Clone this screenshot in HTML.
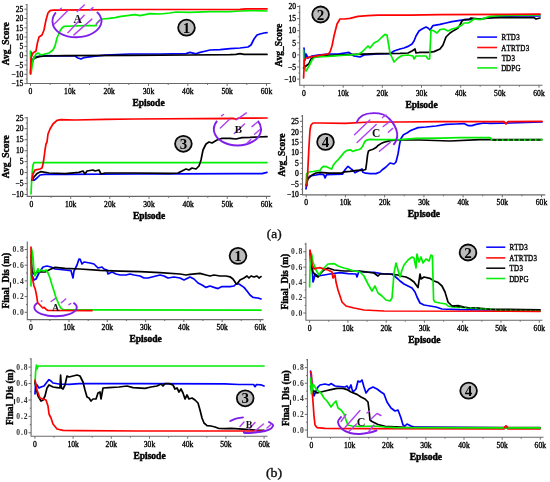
<!DOCTYPE html>
<html><head><meta charset="utf-8"><style>
html,body{margin:0;padding:0;background:#fff;}
body{width:550px;height:482px;overflow:hidden;font-family:"Liberation Serif",serif;}
svg{display:block;will-change:transform;}
</style></head><body>
<svg width="550" height="482" viewBox="0 0 550 482">
<rect width="550" height="482" fill="#fff"/>
<path d="M27.0 4.0 V83.5 H270.5" fill="none" stroke="#6a6a6a" stroke-width="1.1"/>
<path d="M24.4 83.6H27.0M24.4 74.3H27.0M24.4 65.0H27.0M24.4 55.7H27.0M24.4 46.4H27.0M24.4 37.1H27.0M24.4 27.8H27.0M24.4 18.5H27.0M24.4 9.2H27.0M25.7 79.0H27.0M25.7 69.7H27.0M25.7 60.4H27.0M25.7 51.1H27.0M25.7 41.8H27.0M25.7 32.5H27.0M25.7 23.1H27.0M25.7 13.8H27.0M25.7 4.6H27.0M30.5 83.5V85.9M69.8 83.5V85.9M109.2 83.5V85.9M148.5 83.5V85.9M187.8 83.5V85.9M227.2 83.5V85.9M266.5 83.5V85.9M50.2 83.5V84.9M89.5 83.5V84.9M128.8 83.5V84.9M168.2 83.5V84.9M207.5 83.5V84.9M246.8 83.5V84.9" stroke="#6a6a6a" stroke-width="1" fill="none"/>
<text x="23.4" y="86.3" text-anchor="end" font-family="Liberation Serif" font-size="7.6" fill="#000" stroke="#000" stroke-width="0.32">−15</text>
<text x="23.4" y="77.0" text-anchor="end" font-family="Liberation Serif" font-size="7.6" fill="#000" stroke="#000" stroke-width="0.32">−10</text>
<text x="23.4" y="67.7" text-anchor="end" font-family="Liberation Serif" font-size="7.6" fill="#000" stroke="#000" stroke-width="0.32">−5</text>
<text x="23.4" y="58.4" text-anchor="end" font-family="Liberation Serif" font-size="7.6" fill="#000" stroke="#000" stroke-width="0.32">0</text>
<text x="23.4" y="49.1" text-anchor="end" font-family="Liberation Serif" font-size="7.6" fill="#000" stroke="#000" stroke-width="0.32">5</text>
<text x="23.4" y="39.8" text-anchor="end" font-family="Liberation Serif" font-size="7.6" fill="#000" stroke="#000" stroke-width="0.32">10</text>
<text x="23.4" y="30.5" text-anchor="end" font-family="Liberation Serif" font-size="7.6" fill="#000" stroke="#000" stroke-width="0.32">15</text>
<text x="23.4" y="21.2" text-anchor="end" font-family="Liberation Serif" font-size="7.6" fill="#000" stroke="#000" stroke-width="0.32">20</text>
<text x="23.4" y="11.9" text-anchor="end" font-family="Liberation Serif" font-size="7.6" fill="#000" stroke="#000" stroke-width="0.32">25</text>
<text x="30.5" y="93.8" text-anchor="middle" font-family="Liberation Serif" font-size="7.6" fill="#000" stroke="#000" stroke-width="0.32">0</text>
<text x="69.8" y="93.8" text-anchor="middle" font-family="Liberation Serif" font-size="7.6" fill="#000" stroke="#000" stroke-width="0.32">10k</text>
<text x="109.2" y="93.8" text-anchor="middle" font-family="Liberation Serif" font-size="7.6" fill="#000" stroke="#000" stroke-width="0.32">20k</text>
<text x="148.5" y="93.8" text-anchor="middle" font-family="Liberation Serif" font-size="7.6" fill="#000" stroke="#000" stroke-width="0.32">30k</text>
<text x="187.8" y="93.8" text-anchor="middle" font-family="Liberation Serif" font-size="7.6" fill="#000" stroke="#000" stroke-width="0.32">40k</text>
<text x="227.2" y="93.8" text-anchor="middle" font-family="Liberation Serif" font-size="7.6" fill="#000" stroke="#000" stroke-width="0.32">50k</text>
<text x="266.5" y="93.8" text-anchor="middle" font-family="Liberation Serif" font-size="7.6" fill="#000" stroke="#000" stroke-width="0.32">60k</text>
<text x="148.5" y="105.7" text-anchor="middle" font-family="Liberation Serif" font-weight="bold" font-size="9.5" fill="#000" stroke="#000" stroke-width="0.45">Episode</text>
<text transform="translate(9.0,43.8) rotate(-90)" x="0" y="0" text-anchor="middle" font-family="Liberation Serif" font-weight="bold" font-size="9.5" fill="#000" stroke="#000" stroke-width="0.4">Avg_Score</text>
<path d="M299.7 5.3 V85.3 H542.5" fill="none" stroke="#6a6a6a" stroke-width="1.1"/>
<path d="M297.1 79.1H299.7M297.1 67.0H299.7M297.1 54.9H299.7M297.1 42.8H299.7M297.1 30.7H299.7M297.1 18.6H299.7M297.1 6.5H299.7M298.4 73.0H299.7M298.4 61.0H299.7M298.4 48.9H299.7M298.4 36.8H299.7M298.4 24.6H299.7M298.4 12.6H299.7M304.0 85.3V87.7M343.2 85.3V87.7M382.3 85.3V87.7M421.5 85.3V87.7M460.7 85.3V87.7M499.8 85.3V87.7M539.0 85.3V87.7M323.6 85.3V86.7M362.8 85.3V86.7M401.9 85.3V86.7M441.1 85.3V86.7M480.2 85.3V86.7M519.4 85.3V86.7" stroke="#6a6a6a" stroke-width="1" fill="none"/>
<text x="296.1" y="81.8" text-anchor="end" font-family="Liberation Serif" font-size="7.6" fill="#000" stroke="#000" stroke-width="0.32">−10</text>
<text x="296.1" y="69.7" text-anchor="end" font-family="Liberation Serif" font-size="7.6" fill="#000" stroke="#000" stroke-width="0.32">−5</text>
<text x="296.1" y="57.6" text-anchor="end" font-family="Liberation Serif" font-size="7.6" fill="#000" stroke="#000" stroke-width="0.32">0</text>
<text x="296.1" y="45.5" text-anchor="end" font-family="Liberation Serif" font-size="7.6" fill="#000" stroke="#000" stroke-width="0.32">5</text>
<text x="296.1" y="33.4" text-anchor="end" font-family="Liberation Serif" font-size="7.6" fill="#000" stroke="#000" stroke-width="0.32">10</text>
<text x="296.1" y="21.3" text-anchor="end" font-family="Liberation Serif" font-size="7.6" fill="#000" stroke="#000" stroke-width="0.32">15</text>
<text x="296.1" y="9.2" text-anchor="end" font-family="Liberation Serif" font-size="7.6" fill="#000" stroke="#000" stroke-width="0.32">20</text>
<text x="304.0" y="95.6" text-anchor="middle" font-family="Liberation Serif" font-size="7.6" fill="#000" stroke="#000" stroke-width="0.32">0</text>
<text x="343.2" y="95.6" text-anchor="middle" font-family="Liberation Serif" font-size="7.6" fill="#000" stroke="#000" stroke-width="0.32">10k</text>
<text x="382.3" y="95.6" text-anchor="middle" font-family="Liberation Serif" font-size="7.6" fill="#000" stroke="#000" stroke-width="0.32">20k</text>
<text x="421.5" y="95.6" text-anchor="middle" font-family="Liberation Serif" font-size="7.6" fill="#000" stroke="#000" stroke-width="0.32">30k</text>
<text x="460.7" y="95.6" text-anchor="middle" font-family="Liberation Serif" font-size="7.6" fill="#000" stroke="#000" stroke-width="0.32">40k</text>
<text x="499.8" y="95.6" text-anchor="middle" font-family="Liberation Serif" font-size="7.6" fill="#000" stroke="#000" stroke-width="0.32">50k</text>
<text x="539.0" y="95.6" text-anchor="middle" font-family="Liberation Serif" font-size="7.6" fill="#000" stroke="#000" stroke-width="0.32">60k</text>
<text x="421.5" y="107.5" text-anchor="middle" font-family="Liberation Serif" font-weight="bold" font-size="9.5" fill="#000" stroke="#000" stroke-width="0.45">Episode</text>
<text transform="translate(281.7,45.3) rotate(-90)" x="0" y="0" text-anchor="middle" font-family="Liberation Serif" font-weight="bold" font-size="9.5" fill="#000" stroke="#000" stroke-width="0.4">Avg_Score</text>
<path d="M27.2 117.0 V196.4 H270.5" fill="none" stroke="#6a6a6a" stroke-width="1.1"/>
<path d="M24.6 194.5H27.2M24.6 183.6H27.2M24.6 172.6H27.2M24.6 161.6H27.2M24.6 150.7H27.2M24.6 139.7H27.2M24.6 128.7H27.2M24.6 117.8H27.2M25.9 189.1H27.2M25.9 178.1H27.2M25.9 167.1H27.2M25.9 156.1H27.2M25.9 145.2H27.2M25.9 134.2H27.2M25.9 123.2H27.2M31.5 196.4V198.8M70.7 196.4V198.8M109.8 196.4V198.8M149.0 196.4V198.8M188.2 196.4V198.8M227.3 196.4V198.8M266.5 196.4V198.8M51.1 196.4V197.8M90.2 196.4V197.8M129.4 196.4V197.8M168.6 196.4V197.8M207.8 196.4V197.8M246.9 196.4V197.8" stroke="#6a6a6a" stroke-width="1" fill="none"/>
<text x="23.6" y="197.2" text-anchor="end" font-family="Liberation Serif" font-size="7.6" fill="#000" stroke="#000" stroke-width="0.32">−10</text>
<text x="23.6" y="186.3" text-anchor="end" font-family="Liberation Serif" font-size="7.6" fill="#000" stroke="#000" stroke-width="0.32">−5</text>
<text x="23.6" y="175.3" text-anchor="end" font-family="Liberation Serif" font-size="7.6" fill="#000" stroke="#000" stroke-width="0.32">0</text>
<text x="23.6" y="164.3" text-anchor="end" font-family="Liberation Serif" font-size="7.6" fill="#000" stroke="#000" stroke-width="0.32">5</text>
<text x="23.6" y="153.4" text-anchor="end" font-family="Liberation Serif" font-size="7.6" fill="#000" stroke="#000" stroke-width="0.32">10</text>
<text x="23.6" y="142.4" text-anchor="end" font-family="Liberation Serif" font-size="7.6" fill="#000" stroke="#000" stroke-width="0.32">15</text>
<text x="23.6" y="131.4" text-anchor="end" font-family="Liberation Serif" font-size="7.6" fill="#000" stroke="#000" stroke-width="0.32">20</text>
<text x="23.6" y="120.5" text-anchor="end" font-family="Liberation Serif" font-size="7.6" fill="#000" stroke="#000" stroke-width="0.32">25</text>
<text x="31.5" y="206.7" text-anchor="middle" font-family="Liberation Serif" font-size="7.6" fill="#000" stroke="#000" stroke-width="0.32">0</text>
<text x="70.7" y="206.7" text-anchor="middle" font-family="Liberation Serif" font-size="7.6" fill="#000" stroke="#000" stroke-width="0.32">10k</text>
<text x="109.8" y="206.7" text-anchor="middle" font-family="Liberation Serif" font-size="7.6" fill="#000" stroke="#000" stroke-width="0.32">20k</text>
<text x="149.0" y="206.7" text-anchor="middle" font-family="Liberation Serif" font-size="7.6" fill="#000" stroke="#000" stroke-width="0.32">30k</text>
<text x="188.2" y="206.7" text-anchor="middle" font-family="Liberation Serif" font-size="7.6" fill="#000" stroke="#000" stroke-width="0.32">40k</text>
<text x="227.3" y="206.7" text-anchor="middle" font-family="Liberation Serif" font-size="7.6" fill="#000" stroke="#000" stroke-width="0.32">50k</text>
<text x="266.5" y="206.7" text-anchor="middle" font-family="Liberation Serif" font-size="7.6" fill="#000" stroke="#000" stroke-width="0.32">60k</text>
<text x="149.0" y="218.6" text-anchor="middle" font-family="Liberation Serif" font-weight="bold" font-size="9.5" fill="#000" stroke="#000" stroke-width="0.45">Episode</text>
<text transform="translate(9.2,156.7) rotate(-90)" x="0" y="0" text-anchor="middle" font-family="Liberation Serif" font-weight="bold" font-size="9.5" fill="#000" stroke="#000" stroke-width="0.4">Avg_Score</text>
<path d="M302.5 115.1 V194.9 H545.3" fill="none" stroke="#6a6a6a" stroke-width="1.1"/>
<path d="M299.9 194.5H302.5M299.9 184.0H302.5M299.9 173.6H302.5M299.9 163.2H302.5M299.9 152.7H302.5M299.9 142.2H302.5M299.9 131.8H302.5M299.9 121.3H302.5M301.2 189.3H302.5M301.2 178.8H302.5M301.2 168.4H302.5M301.2 157.9H302.5M301.2 147.5H302.5M301.2 137.0H302.5M301.2 126.6H302.5M301.2 116.1H302.5M306.2 194.9V197.3M345.4 194.9V197.3M384.6 194.9V197.3M423.9 194.9V197.3M463.1 194.9V197.3M502.3 194.9V197.3M541.5 194.9V197.3M325.8 194.9V196.3M365.0 194.9V196.3M404.2 194.9V196.3M443.5 194.9V196.3M482.7 194.9V196.3M521.9 194.9V196.3" stroke="#6a6a6a" stroke-width="1" fill="none"/>
<text x="298.9" y="197.2" text-anchor="end" font-family="Liberation Serif" font-size="7.6" fill="#000" stroke="#000" stroke-width="0.32">−10</text>
<text x="298.9" y="186.7" text-anchor="end" font-family="Liberation Serif" font-size="7.6" fill="#000" stroke="#000" stroke-width="0.32">−5</text>
<text x="298.9" y="176.3" text-anchor="end" font-family="Liberation Serif" font-size="7.6" fill="#000" stroke="#000" stroke-width="0.32">0</text>
<text x="298.9" y="165.8" text-anchor="end" font-family="Liberation Serif" font-size="7.6" fill="#000" stroke="#000" stroke-width="0.32">5</text>
<text x="298.9" y="155.4" text-anchor="end" font-family="Liberation Serif" font-size="7.6" fill="#000" stroke="#000" stroke-width="0.32">10</text>
<text x="298.9" y="144.9" text-anchor="end" font-family="Liberation Serif" font-size="7.6" fill="#000" stroke="#000" stroke-width="0.32">15</text>
<text x="298.9" y="134.5" text-anchor="end" font-family="Liberation Serif" font-size="7.6" fill="#000" stroke="#000" stroke-width="0.32">20</text>
<text x="298.9" y="124.0" text-anchor="end" font-family="Liberation Serif" font-size="7.6" fill="#000" stroke="#000" stroke-width="0.32">25</text>
<text x="306.2" y="205.2" text-anchor="middle" font-family="Liberation Serif" font-size="7.6" fill="#000" stroke="#000" stroke-width="0.32">0</text>
<text x="345.4" y="205.2" text-anchor="middle" font-family="Liberation Serif" font-size="7.6" fill="#000" stroke="#000" stroke-width="0.32">10k</text>
<text x="384.6" y="205.2" text-anchor="middle" font-family="Liberation Serif" font-size="7.6" fill="#000" stroke="#000" stroke-width="0.32">20k</text>
<text x="423.9" y="205.2" text-anchor="middle" font-family="Liberation Serif" font-size="7.6" fill="#000" stroke="#000" stroke-width="0.32">30k</text>
<text x="463.1" y="205.2" text-anchor="middle" font-family="Liberation Serif" font-size="7.6" fill="#000" stroke="#000" stroke-width="0.32">40k</text>
<text x="502.3" y="205.2" text-anchor="middle" font-family="Liberation Serif" font-size="7.6" fill="#000" stroke="#000" stroke-width="0.32">50k</text>
<text x="541.5" y="205.2" text-anchor="middle" font-family="Liberation Serif" font-size="7.6" fill="#000" stroke="#000" stroke-width="0.32">60k</text>
<text x="423.9" y="217.1" text-anchor="middle" font-family="Liberation Serif" font-weight="bold" font-size="9.5" fill="#000" stroke="#000" stroke-width="0.45">Episode</text>
<text transform="translate(284.5,155.0) rotate(-90)" x="0" y="0" text-anchor="middle" font-family="Liberation Serif" font-weight="bold" font-size="9.5" fill="#000" stroke="#000" stroke-width="0.4">Avg_Score</text>
<path d="M27.3 241.6 V319.6 H263.5" fill="none" stroke="#6a6a6a" stroke-width="1.1"/>
<path d="M24.7 312.3H27.3M24.7 296.6H27.3M24.7 280.9H27.3M24.7 265.2H27.3M24.7 249.5H27.3M26.0 304.4H27.3M26.0 288.8H27.3M26.0 273.1H27.3M26.0 257.3H27.3M30.8 319.6V322.0M69.0 319.6V322.0M107.3 319.6V322.0M145.6 319.6V322.0M183.8 319.6V322.0M222.1 319.6V322.0M260.3 319.6V322.0M49.9 319.6V321.0M88.2 319.6V321.0M126.4 319.6V321.0M164.7 319.6V321.0M202.9 319.6V321.0M241.2 319.6V321.0" stroke="#6a6a6a" stroke-width="1" fill="none"/>
<text x="23.7" y="314.9" text-anchor="end" font-family="Liberation Serif" font-weight="bold" font-size="7.6" fill="#333" textLength="11.3" lengthAdjust="spacing">0.0</text>
<text x="23.7" y="299.2" text-anchor="end" font-family="Liberation Serif" font-weight="bold" font-size="7.6" fill="#333" textLength="11.3" lengthAdjust="spacing">0.2</text>
<text x="23.7" y="283.5" text-anchor="end" font-family="Liberation Serif" font-weight="bold" font-size="7.6" fill="#333" textLength="11.3" lengthAdjust="spacing">0.4</text>
<text x="23.7" y="267.8" text-anchor="end" font-family="Liberation Serif" font-weight="bold" font-size="7.6" fill="#333" textLength="11.3" lengthAdjust="spacing">0.6</text>
<text x="23.7" y="252.1" text-anchor="end" font-family="Liberation Serif" font-weight="bold" font-size="7.6" fill="#333" textLength="11.3" lengthAdjust="spacing">0.8</text>
<text x="30.8" y="329.9" text-anchor="middle" font-family="Liberation Serif" font-size="7.6" fill="#000" stroke="#000" stroke-width="0.32">0</text>
<text x="69.0" y="329.9" text-anchor="middle" font-family="Liberation Serif" font-size="7.6" fill="#000" stroke="#000" stroke-width="0.32">10k</text>
<text x="107.3" y="329.9" text-anchor="middle" font-family="Liberation Serif" font-size="7.6" fill="#000" stroke="#000" stroke-width="0.32">20k</text>
<text x="145.6" y="329.9" text-anchor="middle" font-family="Liberation Serif" font-size="7.6" fill="#000" stroke="#000" stroke-width="0.32">30k</text>
<text x="183.8" y="329.9" text-anchor="middle" font-family="Liberation Serif" font-size="7.6" fill="#000" stroke="#000" stroke-width="0.32">40k</text>
<text x="222.1" y="329.9" text-anchor="middle" font-family="Liberation Serif" font-size="7.6" fill="#000" stroke="#000" stroke-width="0.32">50k</text>
<text x="260.3" y="329.9" text-anchor="middle" font-family="Liberation Serif" font-size="7.6" fill="#000" stroke="#000" stroke-width="0.32">60k</text>
<text x="145.6" y="341.8" text-anchor="middle" font-family="Liberation Serif" font-weight="bold" font-size="9.5" fill="#000" stroke="#000" stroke-width="0.45">Episode</text>
<text transform="translate(9.3,280.6) rotate(-90)" x="0" y="0" text-anchor="middle" font-family="Liberation Serif" font-weight="bold" font-size="9.5" fill="#000" stroke="#000" stroke-width="0.4">Final_Dis (m)</text>
<path d="M305.9 242.8 V320.3 H542.5" fill="none" stroke="#6a6a6a" stroke-width="1.1"/>
<path d="M303.3 313.0H305.9M303.3 297.7H305.9M303.3 282.4H305.9M303.3 267.1H305.9M303.3 251.8H305.9M304.6 305.4H305.9M304.6 290.1H305.9M304.6 274.8H305.9M304.6 259.5H305.9M304.6 244.2H305.9M309.6 320.3V322.7M347.9 320.3V322.7M386.2 320.3V322.7M424.4 320.3V322.7M462.7 320.3V322.7M501.0 320.3V322.7M539.3 320.3V322.7M328.7 320.3V321.7M367.0 320.3V321.7M405.3 320.3V321.7M443.6 320.3V321.7M481.9 320.3V321.7M520.2 320.3V321.7" stroke="#6a6a6a" stroke-width="1" fill="none"/>
<text x="302.3" y="315.6" text-anchor="end" font-family="Liberation Serif" font-weight="bold" font-size="7.6" fill="#333" textLength="11.3" lengthAdjust="spacing">0.0</text>
<text x="302.3" y="300.3" text-anchor="end" font-family="Liberation Serif" font-weight="bold" font-size="7.6" fill="#333" textLength="11.3" lengthAdjust="spacing">0.2</text>
<text x="302.3" y="285.0" text-anchor="end" font-family="Liberation Serif" font-weight="bold" font-size="7.6" fill="#333" textLength="11.3" lengthAdjust="spacing">0.4</text>
<text x="302.3" y="269.7" text-anchor="end" font-family="Liberation Serif" font-weight="bold" font-size="7.6" fill="#333" textLength="11.3" lengthAdjust="spacing">0.6</text>
<text x="302.3" y="254.4" text-anchor="end" font-family="Liberation Serif" font-weight="bold" font-size="7.6" fill="#333" textLength="11.3" lengthAdjust="spacing">0.8</text>
<text x="309.6" y="330.6" text-anchor="middle" font-family="Liberation Serif" font-size="7.6" fill="#000" stroke="#000" stroke-width="0.32">0</text>
<text x="347.9" y="330.6" text-anchor="middle" font-family="Liberation Serif" font-size="7.6" fill="#000" stroke="#000" stroke-width="0.32">10k</text>
<text x="386.2" y="330.6" text-anchor="middle" font-family="Liberation Serif" font-size="7.6" fill="#000" stroke="#000" stroke-width="0.32">20k</text>
<text x="424.4" y="330.6" text-anchor="middle" font-family="Liberation Serif" font-size="7.6" fill="#000" stroke="#000" stroke-width="0.32">30k</text>
<text x="462.7" y="330.6" text-anchor="middle" font-family="Liberation Serif" font-size="7.6" fill="#000" stroke="#000" stroke-width="0.32">40k</text>
<text x="501.0" y="330.6" text-anchor="middle" font-family="Liberation Serif" font-size="7.6" fill="#000" stroke="#000" stroke-width="0.32">50k</text>
<text x="539.3" y="330.6" text-anchor="middle" font-family="Liberation Serif" font-size="7.6" fill="#000" stroke="#000" stroke-width="0.32">60k</text>
<text x="424.4" y="342.5" text-anchor="middle" font-family="Liberation Serif" font-weight="bold" font-size="9.5" fill="#000" stroke="#000" stroke-width="0.45">Episode</text>
<text transform="translate(287.9,281.6) rotate(-90)" x="0" y="0" text-anchor="middle" font-family="Liberation Serif" font-weight="bold" font-size="9.5" fill="#000" stroke="#000" stroke-width="0.4">Final_Dis (m)</text>
<path d="M31.1 358.2 V436.3 H267.5" fill="none" stroke="#6a6a6a" stroke-width="1.1"/>
<path d="M28.5 432.8H31.1M28.5 416.4H31.1M28.5 400.0H31.1M28.5 383.5H31.1M28.5 367.1H31.1M29.8 424.6H31.1M29.8 408.2H31.1M29.8 391.8H31.1M29.8 375.3H31.1M29.8 358.9H31.1M34.9 436.3V438.7M73.1 436.3V438.7M111.3 436.3V438.7M149.5 436.3V438.7M187.7 436.3V438.7M225.9 436.3V438.7M264.1 436.3V438.7M54.0 436.3V437.7M92.2 436.3V437.7M130.4 436.3V437.7M168.6 436.3V437.7M206.8 436.3V437.7M245.0 436.3V437.7" stroke="#6a6a6a" stroke-width="1" fill="none"/>
<text x="27.5" y="435.4" text-anchor="end" font-family="Liberation Serif" font-weight="bold" font-size="7.6" fill="#333" textLength="11.3" lengthAdjust="spacing">0.0</text>
<text x="27.5" y="419.0" text-anchor="end" font-family="Liberation Serif" font-weight="bold" font-size="7.6" fill="#333" textLength="11.3" lengthAdjust="spacing">0.2</text>
<text x="27.5" y="402.6" text-anchor="end" font-family="Liberation Serif" font-weight="bold" font-size="7.6" fill="#333" textLength="11.3" lengthAdjust="spacing">0.4</text>
<text x="27.5" y="386.1" text-anchor="end" font-family="Liberation Serif" font-weight="bold" font-size="7.6" fill="#333" textLength="11.3" lengthAdjust="spacing">0.6</text>
<text x="27.5" y="369.7" text-anchor="end" font-family="Liberation Serif" font-weight="bold" font-size="7.6" fill="#333" textLength="11.3" lengthAdjust="spacing">0.8</text>
<text x="34.9" y="446.6" text-anchor="middle" font-family="Liberation Serif" font-size="7.6" fill="#000" stroke="#000" stroke-width="0.32">0</text>
<text x="73.1" y="446.6" text-anchor="middle" font-family="Liberation Serif" font-size="7.6" fill="#000" stroke="#000" stroke-width="0.32">10k</text>
<text x="111.3" y="446.6" text-anchor="middle" font-family="Liberation Serif" font-size="7.6" fill="#000" stroke="#000" stroke-width="0.32">20k</text>
<text x="149.5" y="446.6" text-anchor="middle" font-family="Liberation Serif" font-size="7.6" fill="#000" stroke="#000" stroke-width="0.32">30k</text>
<text x="187.7" y="446.6" text-anchor="middle" font-family="Liberation Serif" font-size="7.6" fill="#000" stroke="#000" stroke-width="0.32">40k</text>
<text x="225.9" y="446.6" text-anchor="middle" font-family="Liberation Serif" font-size="7.6" fill="#000" stroke="#000" stroke-width="0.32">50k</text>
<text x="264.1" y="446.6" text-anchor="middle" font-family="Liberation Serif" font-size="7.6" fill="#000" stroke="#000" stroke-width="0.32">60k</text>
<text x="149.5" y="458.5" text-anchor="middle" font-family="Liberation Serif" font-weight="bold" font-size="9.5" fill="#000" stroke="#000" stroke-width="0.45">Episode</text>
<text transform="translate(13.1,397.2) rotate(-90)" x="0" y="0" text-anchor="middle" font-family="Liberation Serif" font-weight="bold" font-size="9.5" fill="#000" stroke="#000" stroke-width="0.4">Final_Dis (m)</text>
<path d="M307.4 358.9 V437.3 H543.5" fill="none" stroke="#6a6a6a" stroke-width="1.1"/>
<path d="M304.8 430.0H307.4M304.8 414.4H307.4M304.8 398.8H307.4M304.8 383.2H307.4M304.8 367.6H307.4M306.1 422.2H307.4M306.1 406.6H307.4M306.1 391.0H307.4M306.1 375.4H307.4M306.1 359.8H307.4M311.5 437.3V439.7M349.6 437.3V439.7M387.8 437.3V439.7M425.9 437.3V439.7M464.0 437.3V439.7M502.2 437.3V439.7M540.3 437.3V439.7M330.6 437.3V438.7M368.7 437.3V438.7M406.8 437.3V438.7M445.0 437.3V438.7M483.1 437.3V438.7M521.2 437.3V438.7" stroke="#6a6a6a" stroke-width="1" fill="none"/>
<text x="303.8" y="432.6" text-anchor="end" font-family="Liberation Serif" font-weight="bold" font-size="7.6" fill="#333" textLength="11.3" lengthAdjust="spacing">0.0</text>
<text x="303.8" y="417.0" text-anchor="end" font-family="Liberation Serif" font-weight="bold" font-size="7.6" fill="#333" textLength="11.3" lengthAdjust="spacing">0.2</text>
<text x="303.8" y="401.4" text-anchor="end" font-family="Liberation Serif" font-weight="bold" font-size="7.6" fill="#333" textLength="11.3" lengthAdjust="spacing">0.4</text>
<text x="303.8" y="385.8" text-anchor="end" font-family="Liberation Serif" font-weight="bold" font-size="7.6" fill="#333" textLength="11.3" lengthAdjust="spacing">0.6</text>
<text x="303.8" y="370.2" text-anchor="end" font-family="Liberation Serif" font-weight="bold" font-size="7.6" fill="#333" textLength="11.3" lengthAdjust="spacing">0.8</text>
<text x="311.5" y="447.6" text-anchor="middle" font-family="Liberation Serif" font-size="7.6" fill="#000" stroke="#000" stroke-width="0.32">0</text>
<text x="349.6" y="447.6" text-anchor="middle" font-family="Liberation Serif" font-size="7.6" fill="#000" stroke="#000" stroke-width="0.32">10k</text>
<text x="387.8" y="447.6" text-anchor="middle" font-family="Liberation Serif" font-size="7.6" fill="#000" stroke="#000" stroke-width="0.32">20k</text>
<text x="425.9" y="447.6" text-anchor="middle" font-family="Liberation Serif" font-size="7.6" fill="#000" stroke="#000" stroke-width="0.32">30k</text>
<text x="464.0" y="447.6" text-anchor="middle" font-family="Liberation Serif" font-size="7.6" fill="#000" stroke="#000" stroke-width="0.32">40k</text>
<text x="502.2" y="447.6" text-anchor="middle" font-family="Liberation Serif" font-size="7.6" fill="#000" stroke="#000" stroke-width="0.32">50k</text>
<text x="540.3" y="447.6" text-anchor="middle" font-family="Liberation Serif" font-size="7.6" fill="#000" stroke="#000" stroke-width="0.32">60k</text>
<text x="425.9" y="459.5" text-anchor="middle" font-family="Liberation Serif" font-weight="bold" font-size="9.5" fill="#000" stroke="#000" stroke-width="0.45">Episode</text>
<text transform="translate(289.4,398.1) rotate(-90)" x="0" y="0" text-anchor="middle" font-family="Liberation Serif" font-weight="bold" font-size="9.5" fill="#000" stroke="#000" stroke-width="0.4">Final_Dis (m)</text>
<path d="M31.0 52.0 L31.4 66.0 L34.0 57.0 L45.0 55.6 L75.0 56.0 L78.0 58.0 L81.0 59.0 L84.0 57.6 L93.0 56.4 L105.0 55.2 L130.0 54.0 L160.0 54.0 L186.0 53.6 L190.0 52.4 L196.0 53.8 L200.0 52.4 L206.0 51.0 L210.0 50.0 L220.0 49.6 L230.0 48.6 L240.0 48.0 L248.0 47.0 L251.0 45.0 L254.0 39.0 L257.0 35.0 L260.0 34.0 L264.0 33.0 L267.0 32.6" fill="none" stroke="#0000ff" stroke-width="1.7" stroke-linejoin="round" stroke-linecap="round"/>
<path d="M30.6 73.0 L31.0 66.0 L32.0 60.0 L35.0 58.0 L39.0 56.6 L45.0 56.0 L65.0 55.6 L130.0 55.4 L190.0 55.0 L230.0 54.6 L236.0 54.4 L240.0 53.6 L244.0 54.4 L267.0 54.4" fill="none" stroke="#000000" stroke-width="1.7" stroke-linejoin="round" stroke-linecap="round"/>
<path d="M30.4 51.0 L31.0 74.0 L33.0 60.0 L36.0 54.0 L38.0 53.0 L41.0 55.0 L45.0 54.0 L49.0 53.0 L53.0 50.0 L55.0 46.0 L57.0 38.0 L60.0 31.0 L62.0 28.0 L64.0 26.4 L73.0 26.0 L85.0 25.6 L96.0 25.6 L97.0 23.0 L100.0 20.0 L103.0 19.0 L109.0 18.4 L115.0 17.6 L121.0 16.4 L127.0 15.6 L135.0 14.6 L140.0 15.6 L150.0 13.6 L160.0 14.0 L170.0 13.0 L176.0 12.0 L190.0 12.4 L210.0 11.6 L230.0 11.6 L240.0 11.0 L250.0 10.6 L267.0 11.0" fill="none" stroke="#00ee00" stroke-width="1.7" stroke-linejoin="round" stroke-linecap="round"/>
<path d="M30.4 74.0 L31.0 58.0 L33.0 53.0 L36.0 51.0 L37.4 43.0 L39.0 37.0 L42.0 35.0 L44.0 30.0 L46.0 20.0 L48.0 13.0 L50.0 10.6 L53.0 10.2 L85.0 9.8 L135.0 9.5 L240.0 9.4 L246.0 8.8 L267.0 8.9" fill="none" stroke="#ff0000" stroke-width="1.7" stroke-linejoin="round" stroke-linecap="round"/>
<path d="M55.4 13.1 C55.0 13.8 53.7 15.6 53.2 17.0 C52.7 18.4 52.3 20.0 52.5 21.8 C52.7 23.6 53.1 25.9 54.3 27.8 C55.5 29.7 57.3 31.6 59.5 33.0 C61.7 34.4 64.7 35.6 67.5 36.3 C70.3 37.0 73.5 37.2 76.5 37.2 C79.5 37.2 82.7 36.9 85.5 36.2 C88.3 35.5 91.2 34.2 93.5 32.8 C95.8 31.3 98.0 29.4 99.3 27.5 C100.6 25.6 101.4 23.4 101.6 21.5 C101.8 19.6 101.0 17.8 100.3 16.3 C99.6 14.8 97.9 13.1 97.4 12.5" fill="none" stroke="#7f1fe8" stroke-width="1.9" stroke-linecap="round"/>
<path d="M54.3 24.0L67.9 10.4M59.2 9.8L61.4 8.2M77.2 11.5L84.3 4.9M89.7 10.4L93.0 7.6M67.9 32.7L84.2 15.3M73.9 34.9L91.9 19.1M96.3 24.0L100.6 19.6" fill="none" stroke="#b040f0" stroke-width="1.4" stroke-linecap="round"/>
<text x="77.6" y="23.1" text-anchor="middle" font-family="Liberation Serif" font-weight="bold" font-size="11.5" fill="#111">A</text>
<path d="M304.0 48.0 L305.0 60.0 L306.0 54.0 L308.0 58.0 L312.0 56.0 L318.0 55.0 L328.0 54.0 L338.0 54.0 L349.0 52.4 L351.0 54.0 L354.0 56.0 L360.0 57.0 L364.0 55.0 L378.0 54.0 L390.0 53.6 L394.0 51.0 L400.0 49.0 L404.0 48.0 L408.0 46.4 L412.0 44.0 L414.0 41.0 L416.0 36.0 L419.0 31.0 L422.0 29.0 L426.0 27.0 L428.0 28.0 L430.0 30.0 L433.0 25.6 L440.0 24.4 L446.0 23.0 L452.0 21.6 L460.0 20.4 L468.0 19.4 L480.0 19.0 L490.0 17.6 L500.0 16.4 L520.0 16.0 L540.0 16.0" fill="none" stroke="#0000ff" stroke-width="1.7" stroke-linejoin="round" stroke-linecap="round"/>
<path d="M303.6 68.0 L306.0 66.0 L309.0 63.6 L311.0 59.0 L314.0 57.0 L328.0 55.6 L348.0 54.6 L378.0 53.6 L400.0 53.4 L408.0 53.0 L412.0 51.0 L415.0 49.0 L416.0 53.0 L420.0 52.4 L428.0 52.4 L434.0 51.6 L440.0 49.0 L443.0 45.0 L446.0 37.0 L450.0 33.0 L454.0 30.4 L458.0 28.0 L460.0 25.0 L462.0 21.0 L464.0 19.6 L469.0 19.6 L471.0 18.0 L480.0 19.0 L490.0 18.0 L500.0 17.6 L520.0 17.6 L534.0 17.6 L536.0 19.0 L540.0 18.0" fill="none" stroke="#000000" stroke-width="1.7" stroke-linejoin="round" stroke-linecap="round"/>
<path d="M303.6 50.0 L304.0 66.0 L306.0 71.0 L309.0 66.0 L312.0 60.0 L315.0 57.0 L328.0 56.4 L348.0 55.0 L358.0 54.4 L362.0 52.0 L368.0 46.0 L370.0 48.0 L374.0 43.0 L378.0 41.0 L382.0 37.0 L385.0 34.4 L387.0 35.0 L390.0 53.0 L394.0 62.0 L398.0 58.0 L402.0 55.6 L408.0 55.0 L413.0 56.0 L414.0 59.0 L416.0 56.0 L426.0 56.0 L428.0 59.0 L429.6 59.0 L431.0 30.0 L434.0 31.0 L437.0 33.0 L440.0 29.6 L444.0 29.0 L448.0 31.0 L452.0 29.0 L456.0 28.0 L460.0 26.0 L462.0 25.0 L464.0 23.0 L468.0 23.0 L470.0 22.0 L474.0 19.0 L480.0 19.6 L484.0 18.4 L490.0 16.4 L500.0 15.6 L520.0 15.2 L540.0 14.8" fill="none" stroke="#00ee00" stroke-width="1.7" stroke-linejoin="round" stroke-linecap="round"/>
<path d="M303.6 78.0 L304.4 60.0 L306.0 58.0 L310.0 57.0 L314.0 56.4 L322.0 55.0 L328.0 54.0 L330.0 52.0 L332.0 46.0 L334.0 36.0 L337.0 24.0 L340.0 19.0 L344.0 19.0 L350.0 18.4 L358.0 16.4 L368.0 15.6 L378.0 15.2 L410.0 15.2 L440.0 14.6 L540.0 14.2" fill="none" stroke="#ff0000" stroke-width="1.7" stroke-linejoin="round" stroke-linecap="round"/>
<path d="M32.0 178.0 L34.0 180.4 L37.0 178.0 L40.0 175.0 L45.0 174.4 L65.0 174.4 L135.0 174.0 L170.0 173.8 L240.0 173.6 L262.0 173.6 L266.0 172.6 L267.0 172.4" fill="none" stroke="#0000ff" stroke-width="1.7" stroke-linejoin="round" stroke-linecap="round"/>
<path d="M31.0 194.0 L32.0 174.0 L33.0 165.0 L34.0 162.6 L267.0 162.6" fill="none" stroke="#00ee00" stroke-width="1.7" stroke-linejoin="round" stroke-linecap="round"/>
<path d="M32.0 180.0 L34.0 177.0 L37.0 173.6 L41.0 171.6 L49.0 173.0 L65.0 173.6 L79.0 172.4 L83.0 171.0 L85.0 174.0 L87.0 171.0 L93.0 170.0 L95.0 171.0 L99.0 170.0 L101.0 174.0 L105.0 173.0 L135.0 173.0 L170.0 173.4 L178.0 173.0 L182.0 171.0 L186.0 169.0 L189.0 170.0 L192.0 168.0 L196.0 169.0 L199.0 166.0 L201.0 160.0 L203.0 150.0 L206.0 144.0 L209.0 142.0 L212.0 143.0 L217.0 140.0 L222.0 138.4 L230.0 138.4 L236.0 139.0 L242.0 137.6 L250.0 137.4 L258.0 137.0 L267.0 136.6" fill="none" stroke="#000000" stroke-width="1.7" stroke-linejoin="round" stroke-linecap="round"/>
<path d="M32.0 180.0 L33.0 174.0 L35.0 170.0 L37.0 169.6 L40.0 169.0 L42.0 168.0 L43.0 164.0 L44.0 158.0 L45.0 150.0 L46.0 144.0 L47.0 142.0 L48.0 134.0 L50.0 129.0 L53.0 124.0 L57.0 120.4 L61.0 119.6 L75.0 120.0 L105.0 119.4 L135.0 119.0 L234.0 118.4 L236.0 119.4 L238.0 118.2 L267.0 118.0" fill="none" stroke="#ff0000" stroke-width="1.7" stroke-linejoin="round" stroke-linecap="round"/>
<path d="M217.1 120.9 A23.6 16.3 0 1 0 257.8 120.9" fill="none" stroke="#7f1fe8" stroke-width="1.9"/>
<path d="M220.3 127.9L229.8 119.0M221.5 115.8L223.5 114.5M236.8 119.6L246.4 112.9M234.3 133.6L244.5 124.1M252.0 126.6L257.2 122.2M247.0 143.2L250.8 139.4M254.6 134.3L259.7 129.8" fill="none" stroke="#b040f0" stroke-width="1.4" stroke-linecap="round"/>
<text x="238.3" y="133.2" text-anchor="middle" font-family="Liberation Serif" font-weight="bold" font-size="11" fill="#111">B</text>
<path d="M306.0 189.0 L307.0 179.0 L310.0 176.0 L316.0 175.0 L320.0 174.2 L323.7 174.6 L325.1 177.9 L326.5 174.6 L342.4 174.2 L345.2 169.5 L348.0 166.3 L350.8 168.6 L352.6 170.0 L355.0 172.8 L357.3 171.4 L360.1 170.0 L362.0 169.0 L362.9 172.3 L365.7 173.2 L370.0 173.7 L376.0 173.6 L380.0 172.0 L382.0 170.0 L386.0 167.0 L390.0 163.0 L394.0 164.0 L396.0 162.0 L398.0 154.0 L399.7 143.6 L401.0 138.5 L403.5 134.7 L407.4 132.8 L410.0 130.9 L412.0 130.0 L418.0 127.6 L426.0 127.0 L436.0 126.0 L446.0 124.4 L456.0 124.0 L464.0 123.6 L468.0 125.6 L472.0 125.6 L476.0 124.4 L484.0 123.0 L490.0 123.4 L510.0 123.0 L542.0 122.0" fill="none" stroke="#0000ff" stroke-width="1.7" stroke-linejoin="round" stroke-linecap="round"/>
<path d="M306.0 185.0 L308.0 179.0 L312.0 175.0 L316.0 173.0 L320.0 172.3 L329.3 173.2 L341.5 173.1 L344.3 171.8 L349.9 171.4 L357.3 170.4 L362.9 170.3 L365.7 169.5 L366.6 163.0 L367.6 154.6 L368.5 150.9 L370.0 150.2 L373.0 149.2 L376.0 147.6 L378.0 145.5 L381.0 143.6 L384.0 142.2 L390.0 140.6 L396.0 140.0 L420.0 140.0 L450.0 141.0 L480.0 139.6 L542.0 139.6" fill="none" stroke="#000000" stroke-width="1.7" stroke-linejoin="round" stroke-linecap="round"/>
<path d="M306.0 184.0 L306.6 174.0 L309.0 172.0 L313.0 171.5 L316.0 171.0 L320.0 170.4 L321.9 167.6 L323.7 166.3 L326.5 166.7 L329.3 168.1 L331.7 169.0 L333.0 165.8 L334.9 163.0 L337.7 160.2 L340.5 156.9 L342.4 154.6 L344.3 152.3 L347.0 150.4 L350.8 149.9 L352.5 151.5 L355.4 150.4 L359.2 149.5 L361.0 148.5 L362.9 145.7 L364.8 141.5 L366.6 140.1 L370.0 139.4 L376.8 139.6 L400.0 139.6 L416.0 138.4 L440.0 138.2 L460.0 137.6 L490.0 137.6 L492.0 140.0 L542.0 139.6" fill="none" stroke="#00ee00" stroke-width="1.7" stroke-linejoin="round" stroke-linecap="round"/>
<path d="M493.0 140.0 L542.0 139.8" fill="none" stroke="#000000" stroke-width="1.3" stroke-linejoin="round" stroke-linecap="round" stroke-dasharray="3 2.5"/>
<path d="M307.0 186.0 L308.0 166.0 L309.0 146.0 L310.0 130.0 L311.0 125.0 L313.0 123.0 L320.0 123.0 L345.0 123.3 L370.5 122.0 L400.0 122.0 L440.0 121.6 L504.0 121.6 L506.0 124.0 L508.0 121.6 L542.0 121.4" fill="none" stroke="#ff0000" stroke-width="1.7" stroke-linejoin="round" stroke-linecap="round"/>
<path d="M356.5 122.6 C359 116 366 113 373.6 113.1 C381 113 386 115 389 118.5 C393 122.5 396.5 128 397.2 133.5 C397.6 138 395.8 142 393.4 144.9" fill="none" stroke="#7f1fe8" stroke-width="1.9"/>
<path d="M354.5 134.7L369.8 120.1M357.1 142.4L376.2 124.5M382.5 117.5L386.0 115.0M383.2 126.5L390.8 120.7M388.3 132.2L392.7 128.4M379.4 151.3L390.2 142.4" fill="none" stroke="#b040f0" stroke-width="1.4" stroke-linecap="round"/>
<text x="376.2" y="136.5" text-anchor="middle" font-family="Liberation Serif" font-weight="bold" font-size="11.5" fill="#111">C</text>
<path d="M31.0 261.0 L32.0 275.0 L34.0 280.0 L36.0 279.0 L39.0 273.0 L43.0 267.0 L47.0 266.0 L51.0 267.0 L55.0 269.0 L65.0 270.0 L71.0 270.6 L73.0 278.0 L74.0 271.0 L77.0 265.0 L79.0 259.0 L80.0 259.0 L82.0 264.0 L84.0 262.0 L90.0 263.0 L94.0 264.0 L98.0 268.0 L102.0 267.0 L104.0 269.0 L107.0 270.0 L108.0 274.0 L112.0 272.0 L116.0 274.0 L120.0 275.0 L126.0 275.0 L130.0 274.0 L134.0 275.0 L140.0 276.0 L144.0 278.0 L148.0 278.0 L156.0 276.0 L160.0 275.0 L164.0 276.0 L168.0 278.0 L174.0 277.0 L180.0 278.0 L184.0 280.0 L188.0 278.0 L190.0 277.0 L194.0 279.0 L198.0 283.0 L202.0 285.0 L206.0 287.4 L210.0 286.0 L214.0 287.4 L218.0 288.6 L222.0 286.6 L230.0 286.6 L234.0 286.0 L236.0 284.0 L239.0 284.0 L244.0 287.4 L247.0 291.0 L250.0 295.0 L253.0 297.4 L258.0 298.0 L261.0 299.0" fill="none" stroke="#0000ff" stroke-width="1.7" stroke-linejoin="round" stroke-linecap="round"/>
<path d="M31.0 255.0 L32.0 271.0 L34.0 274.0 L38.0 272.0 L45.0 272.0 L51.0 269.0 L55.0 267.4 L65.0 268.4 L80.0 269.0 L100.0 270.4 L120.0 271.2 L140.0 271.6 L160.0 272.6 L180.0 274.0 L186.0 275.0 L190.0 274.4 L200.0 273.4 L206.0 275.0 L210.0 276.0 L214.0 275.0 L220.0 276.0 L226.0 276.0 L230.0 276.8 L233.0 279.0 L236.0 283.4 L237.0 284.0 L240.0 280.0 L244.0 278.0 L247.0 276.0 L249.0 278.0 L251.0 276.0 L254.0 277.0 L257.0 276.0 L259.0 278.0 L261.0 276.6" fill="none" stroke="#000000" stroke-width="1.7" stroke-linejoin="round" stroke-linecap="round"/>
<path d="M31.0 286.0 L31.6 249.0 L33.0 257.0 L34.0 271.0 L35.0 276.0 L37.0 271.0 L38.0 268.6 L39.0 272.0 L41.0 270.0 L44.0 271.0 L46.0 270.0 L48.0 273.0 L50.0 278.0 L52.0 285.0 L54.0 291.0 L56.0 297.7 L58.7 304.0 L60.6 307.9 L63.2 309.6 L95.0 309.8 L261.0 310.2" fill="none" stroke="#00ee00" stroke-width="1.7" stroke-linejoin="round" stroke-linecap="round"/>
<path d="M31.0 247.0 L31.4 275.0 L33.0 281.0 L34.0 286.0 L35.2 288.8 L36.5 295.2 L37.7 302.8 L39.0 304.0 L40.9 306.0 L42.8 308.0 L44.1 307.3 L46.0 309.2 L47.9 310.5 L92.0 310.6" fill="none" stroke="#ff0000" stroke-width="1.7" stroke-linejoin="round" stroke-linecap="round"/>
<path d="M37.7 302.8 A21.2 8.7 0 1 0 73.4 302.8" fill="none" stroke="#7f1fe8" stroke-width="1.9"/>
<path d="M41.3 301.0L41.8 301.2M51.1 301.5L55.5 298.4M61.3 302.8L65.7 299.0M68.9 304.7L70.8 303.5" fill="none" stroke="#b040f0" stroke-width="1.4" stroke-linecap="round"/>
<text x="55.5" y="311.3" text-anchor="middle" font-family="Liberation Serif" font-weight="bold" font-size="10" fill="#111">A</text>
<path d="M310.0 251.0 L311.0 258.0 L312.0 266.0 L313.0 282.0 L314.0 279.0 L315.0 274.0 L318.0 276.0 L324.0 275.0 L330.0 274.0 L340.0 272.6 L348.0 273.6 L356.0 274.0 L357.0 277.0 L359.0 271.0 L364.0 272.0 L374.0 272.4 L384.0 274.0 L392.0 274.0 L398.0 279.0 L400.0 281.0 L404.0 284.0 L408.0 286.0 L412.0 288.0 L415.0 292.0 L417.0 297.0 L420.0 303.0 L424.0 305.0 L430.0 306.0 L436.0 307.0 L442.0 309.0 L460.0 309.6 L540.0 310.4" fill="none" stroke="#0000ff" stroke-width="1.7" stroke-linejoin="round" stroke-linecap="round"/>
<path d="M310.0 254.0 L311.0 266.0 L313.0 272.0 L316.0 276.0 L318.0 277.0 L320.0 274.0 L324.0 270.0 L328.0 268.0 L334.0 270.0 L344.0 271.0 L354.0 271.0 L364.0 271.6 L374.0 273.0 L378.0 276.0 L380.0 274.0 L388.0 274.0 L398.0 275.0 L400.0 276.0 L406.0 277.0 L410.0 279.0 L414.0 282.0 L418.0 287.6 L420.0 274.0 L421.0 279.0 L424.0 277.0 L430.0 278.4 L434.0 281.0 L438.0 282.4 L442.0 286.0 L445.0 292.0 L448.0 302.0 L452.0 306.0 L458.0 305.6 L464.0 307.0 L470.0 308.0 L480.0 308.4 L490.0 309.0 L540.0 309.8" fill="none" stroke="#000000" stroke-width="1.7" stroke-linejoin="round" stroke-linecap="round"/>
<path d="M309.6 287.0 L310.4 254.0 L311.6 254.0 L313.0 262.0 L316.0 270.0 L319.0 275.0 L321.0 272.0 L324.0 268.0 L328.0 264.0 L334.0 263.6 L338.0 266.0 L344.0 268.0 L348.0 269.0 L354.0 271.0 L360.0 272.0 L364.0 276.0 L368.0 284.0 L372.0 291.0 L375.0 286.0 L378.0 293.0 L382.0 296.0 L386.0 300.0 L390.0 301.0 L392.0 298.0 L393.0 286.0 L394.0 273.0 L396.0 263.0 L398.0 270.0 L400.0 277.0 L402.0 270.0 L404.0 265.0 L408.0 260.0 L412.0 257.0 L414.0 258.0 L416.0 268.0 L417.0 254.0 L419.0 262.0 L421.0 257.0 L423.0 263.0 L426.0 259.0 L429.0 261.0 L431.0 255.0 L432.4 256.0 L433.6 300.0 L435.0 302.0 L440.0 303.0 L446.0 304.0 L448.0 306.0 L452.0 307.0 L460.0 307.4 L480.0 308.6 L500.0 310.2 L540.0 310.8" fill="none" stroke="#00ee00" stroke-width="1.7" stroke-linejoin="round" stroke-linecap="round"/>
<path d="M310.0 250.0 L311.0 256.0 L312.0 265.0 L314.0 269.0 L317.0 268.0 L320.0 267.6 L324.0 269.0 L328.0 270.0 L332.0 272.0 L333.0 278.0 L335.0 275.0 L336.0 282.0 L338.0 290.0 L340.0 296.0 L342.0 302.0 L346.0 306.0 L350.0 307.0 L354.0 308.0 L364.0 310.0 L384.0 311.0 L540.0 311.3" fill="none" stroke="#ff0000" stroke-width="1.7" stroke-linejoin="round" stroke-linecap="round"/>
<path d="M452.0 306.0 L458.0 306.6 L464.0 307.4 L470.0 308.0 L476.0 307.8 L482.0 308.8 L490.0 309.4 L500.0 309.8 L540.0 310.0" fill="none" stroke="#000000" stroke-width="1.2" stroke-linejoin="round" stroke-linecap="round" stroke-dasharray="3 2"/>
<path d="M35.0 384.0 L35.6 372.0 L36.4 365.0 L37.0 369.0 L38.0 366.0 L264.0 366.0" fill="none" stroke="#00ee00" stroke-width="1.7" stroke-linejoin="round" stroke-linecap="round"/>
<path d="M35.0 394.0 L35.6 384.0 L37.0 385.0 L39.0 388.0 L41.0 387.0 L44.0 386.0 L47.0 382.0 L49.0 379.6 L51.0 381.0 L53.0 383.0 L59.0 384.0 L69.0 384.4 L79.0 383.6 L99.0 383.6 L139.0 383.6 L224.5 383.8 L239.0 384.5 L253.6 384.5 L255.0 386.7 L256.5 384.5 L260.8 384.8 L264.0 386.0" fill="none" stroke="#0000ff" stroke-width="1.7" stroke-linejoin="round" stroke-linecap="round"/>
<path d="M35.0 382.0 L36.0 388.0 L38.0 396.0 L41.0 401.0 L43.0 400.0 L45.0 396.0 L47.0 388.0 L49.0 385.0 L53.0 387.0 L57.0 387.6 L60.0 388.0 L60.6 375.0 L61.4 388.0 L63.0 389.0 L65.0 385.0 L67.0 376.0 L69.0 377.0 L73.0 376.0 L77.0 375.0 L80.0 376.0 L83.0 382.0 L85.0 390.0 L87.0 397.0 L89.0 398.0 L91.0 401.0 L93.0 399.0 L96.0 399.0 L98.0 393.0 L100.0 392.0 L101.0 399.0 L103.0 388.0 L109.0 387.6 L119.0 387.0 L127.0 386.0 L133.0 387.6 L145.0 388.4 L151.0 387.0 L157.0 386.0 L161.0 384.0 L163.0 386.0 L165.0 383.6 L169.0 383.6 L173.0 385.0 L175.0 389.0 L177.0 388.0 L179.0 392.0 L181.0 389.0 L183.0 393.0 L185.0 399.0 L187.0 395.0 L189.0 399.0 L192.0 398.0 L195.0 400.0 L198.0 403.0 L200.0 410.0 L202.0 418.0 L204.0 423.0 L207.0 425.6 L211.0 426.0 L215.0 427.0 L219.0 428.5 L225.0 428.6 L231.0 428.4 L239.0 428.9 L246.0 429.3 L255.0 430.0 L264.0 430.3" fill="none" stroke="#000000" stroke-width="1.7" stroke-linejoin="round" stroke-linecap="round"/>
<path d="M35.0 380.0 L37.0 390.0 L40.0 398.0 L43.0 399.0 L46.0 400.0 L48.0 406.0 L49.0 414.0 L51.0 418.0 L53.0 424.0 L57.0 429.0 L63.0 430.4 L79.0 430.6 L139.0 431.0 L264.0 431.0" fill="none" stroke="#ff0000" stroke-width="1.7" stroke-linejoin="round" stroke-linecap="round"/>
<path d="M230.3 421.0 C231.2 420.6 233.9 419.2 236.0 418.6 C238.1 418.0 241.8 417.6 243.0 417.4" fill="none" stroke="#7f1fe8" stroke-width="1.9" stroke-linecap="round"/>
<path d="M269.0 422.0 C269.7 422.5 272.7 423.9 273.0 425.0 C273.3 426.1 272.3 427.5 271.0 428.5 C269.7 429.5 267.7 430.3 265.0 431.0 C262.3 431.7 258.3 432.2 255.0 432.5 C251.7 432.8 246.8 433.1 245.0 433.0 C243.2 432.9 244.2 432.2 244.0 432.0" fill="none" stroke="#7f1fe8" stroke-width="1.9" stroke-linecap="round"/>
<path d="M240.0 426.5L244.0 422.0M249.0 429.0L255.0 422.5M255.0 431.0L263.5 424.0M267.0 428.0L271.0 424.5" fill="none" stroke="#b040f0" stroke-width="1.4" stroke-linecap="round"/>
<text x="249.2" y="428.1" text-anchor="middle" font-family="Liberation Serif" font-weight="bold" font-size="10" fill="#111">B</text>
<path d="M310.6 371.0 L311.4 378.0 L312.6 390.0 L314.0 396.0 L316.0 391.0 L318.0 387.0 L320.0 385.0 L325.0 384.0 L329.0 385.0 L331.0 383.6 L335.0 386.0 L345.0 387.0 L347.0 386.0 L349.0 389.0 L351.0 385.0 L352.0 389.0 L353.0 392.0 L356.0 389.0 L358.0 381.0 L360.0 382.0 L362.0 380.0 L364.0 387.0 L366.0 393.0 L369.0 389.0 L373.0 387.0 L377.0 389.0 L381.0 392.0 L384.0 394.0 L387.0 402.0 L391.0 408.0 L395.0 411.0 L398.0 410.0 L401.0 418.0 L403.0 425.0 L405.0 426.0 L407.0 424.0 L411.0 426.0 L415.0 427.2 L540.0 428.0" fill="none" stroke="#0000ff" stroke-width="1.7" stroke-linejoin="round" stroke-linecap="round"/>
<path d="M310.6 386.0 L312.0 392.0 L314.0 391.0 L317.0 393.0 L321.0 392.0 L325.0 391.0 L331.0 389.6 L337.0 388.4 L343.0 388.4 L347.0 389.6 L351.0 392.0 L357.0 394.4 L361.0 397.0 L365.0 399.0 L368.0 402.0 L369.0 410.0 L370.0 420.0 L372.0 421.5 L375.0 423.0 L378.0 424.5 L385.0 426.4 L405.0 427.4 L540.0 427.6" fill="none" stroke="#000000" stroke-width="1.7" stroke-linejoin="round" stroke-linecap="round"/>
<path d="M310.6 372.0 L311.4 374.0 L312.0 390.0 L313.0 402.0 L314.0 416.0 L315.0 425.0 L317.0 427.6 L325.0 428.4 L365.0 428.6 L504.0 428.9 L506.0 426.2 L508.0 428.9 L540.0 429.0" fill="none" stroke="#ff0000" stroke-width="1.7" stroke-linejoin="round" stroke-linecap="round"/>
<path d="M310.6 378.0 L311.4 394.0 L313.0 384.0 L315.0 387.0 L317.0 390.0 L321.0 393.0 L324.0 398.0 L327.0 401.0 L329.0 404.0 L331.0 407.0 L334.0 403.0 L336.0 401.0 L338.0 408.0 L341.0 410.0 L344.0 414.0 L346.0 420.0 L348.0 425.0 L352.0 426.0 L360.0 426.5 L375.0 426.0 L385.0 427.0 L395.0 427.6 L540.0 427.9" fill="none" stroke="#00ee00" stroke-width="1.7" stroke-linejoin="round" stroke-linecap="round"/>
<path d="M504.5 427.4 L506.0 426.0 L507.5 427.4" fill="none" stroke="#ff0000" stroke-width="1.8" stroke-linejoin="round" stroke-linecap="round"/>
<path d="M341.0 417.0 C340.5 417.8 337.8 420.0 338.0 422.0 C338.2 424.0 340.0 427.2 342.0 429.0 C344.0 430.8 347.0 432.2 350.0 433.0 C353.0 433.8 356.7 434.1 360.0 434.0 C363.3 433.9 367.2 433.1 370.0 432.5 C372.8 431.9 375.4 430.8 376.5 430.5" fill="none" stroke="#7f1fe8" stroke-width="1.9" stroke-linecap="round"/>
<path d="M341.0 421.5L346.0 414.5M345.0 427.5L360.0 410.5M349.0 431.5L356.5 424.0M367.0 413.0L369.5 411.0M371.0 419.0L377.0 413.5M377.0 413.5L381.0 415.5M368.0 432.5L374.0 425.0" fill="none" stroke="#b040f0" stroke-width="1.4" stroke-linecap="round"/>
<text x="361" y="425.5" text-anchor="middle" font-family="Liberation Serif" font-weight="bold" font-size="12" fill="#111">C</text>
<ellipse cx="186.5" cy="27.7" rx="8.35" ry="8.0" fill="#bcbcbc" stroke="#080808" stroke-width="1.8"/>
<text x="186.5" y="32.8" text-anchor="middle" font-family="Liberation Serif" font-weight="bold" font-size="15" fill="#000">1</text>
<ellipse cx="320.6" cy="14.5" rx="8.35" ry="8.0" fill="#bcbcbc" stroke="#080808" stroke-width="1.8"/>
<text x="320.6" y="19.6" text-anchor="middle" font-family="Liberation Serif" font-weight="bold" font-size="15" fill="#000">2</text>
<ellipse cx="183.4" cy="143.8" rx="8.35" ry="8.0" fill="#bcbcbc" stroke="#080808" stroke-width="1.8"/>
<text x="183.4" y="148.9" text-anchor="middle" font-family="Liberation Serif" font-weight="bold" font-size="15" fill="#000">3</text>
<ellipse cx="325.5" cy="141.9" rx="8.35" ry="8.0" fill="#bcbcbc" stroke="#080808" stroke-width="1.8"/>
<text x="325.5" y="147.0" text-anchor="middle" font-family="Liberation Serif" font-weight="bold" font-size="15" fill="#000">4</text>
<ellipse cx="238" cy="255.9" rx="8.35" ry="8.0" fill="#bcbcbc" stroke="#080808" stroke-width="1.8"/>
<text x="238" y="261.0" text-anchor="middle" font-family="Liberation Serif" font-weight="bold" font-size="15" fill="#000">1</text>
<ellipse cx="468" cy="252.5" rx="8.35" ry="8.0" fill="#bcbcbc" stroke="#080808" stroke-width="1.8"/>
<text x="468" y="257.6" text-anchor="middle" font-family="Liberation Serif" font-weight="bold" font-size="15" fill="#000">2</text>
<ellipse cx="245.2" cy="398.3" rx="8.35" ry="8.0" fill="#bcbcbc" stroke="#080808" stroke-width="1.8"/>
<text x="245.2" y="403.4" text-anchor="middle" font-family="Liberation Serif" font-weight="bold" font-size="15" fill="#000">3</text>
<ellipse cx="468.6" cy="390.7" rx="8.35" ry="8.0" fill="#bcbcbc" stroke="#080808" stroke-width="1.8"/>
<text x="468.6" y="395.8" text-anchor="middle" font-family="Liberation Serif" font-weight="bold" font-size="15" fill="#000">4</text>
<path d="M477.2 37.1H497.1" stroke="#1010ff" stroke-width="1.6"/>
<text transform="translate(501.5,40.1) scale(0.78,1)" x="3.03 9.08 15.13 21.18" y="0" text-anchor="middle" font-family="Liberation Serif" font-size="9.0" fill="#111" stroke="#111" stroke-width="0.5">RTD3</text>
<path d="M477.2 47.5H497.1" stroke="#ff1010" stroke-width="1.6"/>
<text transform="translate(501.5,50.5) scale(0.78,1)" x="3.03 9.08 15.13 21.18 27.23 33.28" y="0" text-anchor="middle" font-family="Liberation Serif" font-size="9.0" fill="#111" stroke="#111" stroke-width="0.5">ATRTD3</text>
<path d="M477.2 57.7H497.1" stroke="#111" stroke-width="1.6"/>
<text transform="translate(501.5,60.7) scale(0.78,1)" x="3.03 9.08 15.13" y="0" text-anchor="middle" font-family="Liberation Serif" font-size="9.0" fill="#111" stroke="#111" stroke-width="0.5">TD3</text>
<path d="M477.2 67.9H497.1" stroke="#10ee10" stroke-width="1.6"/>
<text transform="translate(501.5,70.9) scale(0.78,1)" x="3.03 9.08 15.13 21.18" y="0" text-anchor="middle" font-family="Liberation Serif" font-size="9.0" fill="#111" stroke="#111" stroke-width="0.5">DDPG</text>
<path d="M486.2 247.2H505.3" stroke="#1010ff" stroke-width="1.6"/>
<text transform="translate(509.4,250.2) scale(0.78,1)" x="3.03 9.08 15.13 21.18" y="0" text-anchor="middle" font-family="Liberation Serif" font-size="9.0" fill="#111" stroke="#111" stroke-width="0.5">RTD3</text>
<path d="M486.2 257.9H505.3" stroke="#ff1010" stroke-width="1.6"/>
<text transform="translate(509.4,260.9) scale(0.78,1)" x="3.03 9.08 15.13 21.18 27.23 33.28" y="0" text-anchor="middle" font-family="Liberation Serif" font-size="9.0" fill="#111" stroke="#111" stroke-width="0.5">ATRTD3</text>
<path d="M486.2 268.2H505.3" stroke="#111" stroke-width="1.6"/>
<text transform="translate(509.4,271.2) scale(0.78,1)" x="3.03 9.08 15.13" y="0" text-anchor="middle" font-family="Liberation Serif" font-size="9.0" fill="#111" stroke="#111" stroke-width="0.5">TD3</text>
<path d="M486.2 278.5H505.3" stroke="#10ee10" stroke-width="1.6"/>
<text transform="translate(509.4,281.5) scale(0.78,1)" x="3.03 9.08 15.13 21.18" y="0" text-anchor="middle" font-family="Liberation Serif" font-size="9.0" fill="#111" stroke="#111" stroke-width="0.5">DDPG</text>
<text x="266.8" y="237.8" font-family="Liberation Serif" font-size="13.3" fill="#111" stroke="#111" stroke-width="0.35">(a)</text>
<text x="265.9" y="477.0" font-family="Liberation Serif" font-size="12.4" textLength="16.3" lengthAdjust="spacingAndGlyphs" fill="#111" stroke="#111" stroke-width="0.35">(b)</text>
</svg>
</body></html>
